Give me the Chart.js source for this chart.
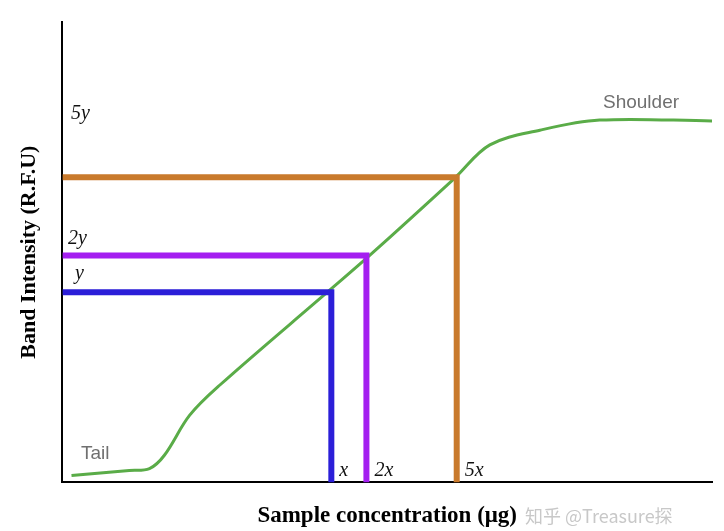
<!DOCTYPE html>
<html><head><meta charset="utf-8">
<script src="https://cdn.jsdelivr.net/npm/chart.js@4/dist/chart.umd.min.js"></script>
<style>body{margin:0;background:#fff}#wrap{width:724px;height:531px}</style>
</head><body><div id="wrap"><canvas id="c"></canvas></div>
<script>
// curve points (concentration, intensity)
const curveX = [1.4, 10.3, 13.4, 15.7, 19.6, 24.2, 41.1, 47.3, 60.4, 65.8, 73.5, 82.7, 100];
const curveY = [1.5, 2.6, 3.0, 5.9, 14.6, 21.1, 41.7, 49.3, 66.1, 73.3, 76.5, 78.7, 78.5];
// guide lines: x, y at curve
const guideNames = ['y', '2y', '5y'];
const guideX = [41.4, 46.8, 60.7];
const guideY = [41.3, 49.3, 66.3];
const guideColors = ['#2b1ed8', '#a41ff0', '#c97a2c'];
const xLabels = ['x', '2x', '5x'];

const datasets = [];
guideX.forEach((gx, i) => {
  datasets.push({
    data: [{x: 0, y: guideY[i]}, {x: gx, y: guideY[i]}, {x: gx, y: 0}],
    borderColor: guideColors[i], borderWidth: 6, pointRadius: 0, tension: 0, borderJoinStyle: 'miter'
  });
});
datasets.push({
  data: curveX.map((x, i) => ({x, y: curveY[i]})),
  borderColor: '#5aac48', borderWidth: 3, pointRadius: 0, tension: 0.35
});

const labelPlugin = {
  id: 'labels',
  afterDatasetsDraw(chart) {
    const ctx = chart.ctx, xs = chart.scales.x, ys = chart.scales.y;
    ctx.save();
    ctx.fillStyle = '#111';
    ctx.font = 'italic 20px "Liberation Serif"';
    ctx.textBaseline = 'alphabetic';
    ctx.fillText('5y', 71, 119);
    ctx.fillText('2y', 68, 244);
    ctx.fillText('y', 75, 279);
    xLabels.forEach((t, i) => ctx.fillText(t, xs.getPixelForValue(guideX[i]) + 8, 476));
    ctx.fillStyle = '#707070';
    ctx.font = '19px "Liberation Sans"';
    ctx.fillText('Tail', 81, 459);
    ctx.fillText('Shoulder', 603, 108);
    ctx.fillStyle = '#c8c8c8';
    ctx.font = '18px "Noto Sans CJK SC"';
    ctx.fillText('知乎 @Treasure探', 525, 523);
    ctx.restore();
  }
};

new Chart(document.getElementById('c'), {
  type: 'line',
  data: {datasets},
  plugins: [labelPlugin],
  options: {
    responsive: true, maintainAspectRatio: false, animation: false,
    layout: {padding: {top: 22, right: 12, left: 0, bottom: 0}},
    plugins: {legend: {display: false}, tooltip: {enabled: false}},
    scales: {
      x: {type: 'linear', min: 0, max: 100, grid: {display: false, drawTicks: false},
          border: {color: '#000', width: 2}, ticks: {display: false},
          title: {display: true, text: 'Sample concentration (μg)', color: '#000',
                  font: {family: 'Liberation Serif', size: 23, weight: 'bold'}, padding: {top: 20, bottom: 1}}},
      y: {min: 0, max: 100, grid: {display: false, drawTicks: false},
          border: {color: '#000', width: 2}, ticks: {display: false},
          title: {display: true, text: 'Band Intensity (R.F.U)', color: '#000',
                  font: {family: 'Liberation Serif', size: 22, weight: 'bold'}, padding: {top: 16, bottom: 20}}}
    }
  }
});
</script></body></html>
